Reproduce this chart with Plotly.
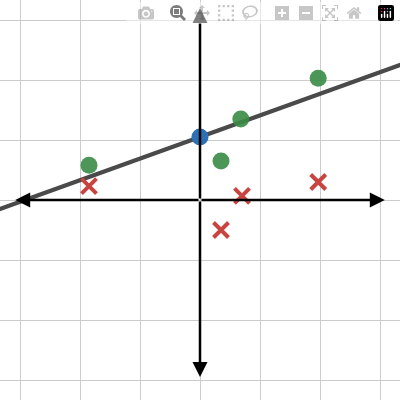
import plotly.graph_objects as go

green_x = [-1.85, 0.68, 1.97, 0.35]
green_y = [0.58, 1.35, 2.03, 0.65]
blue_x = [0.0]
blue_y = [1.05]
red_x = [-1.85, 0.7, 1.97, 0.35]
red_y = [0.23, 0.07, 0.3, -0.5]
slope = 0.36
intercept = 1.05
line_x = [-3.4, 3.4]
line_y = [intercept + slope * v for v in line_x]

fig = go.Figure()
fig.add_trace(go.Scatter(x=line_x, y=line_y, mode="lines",
                         line=dict(color="#4a4a4a", width=4)))
fig.add_trace(go.Scatter(x=green_x, y=green_y, mode="markers",
                         marker=dict(color="#388c46", size=17, opacity=0.9)))
fig.add_trace(go.Scatter(x=red_x, y=red_y, mode="markers",
                         marker=dict(color="#c74440", size=15, symbol="x-thin",
                                     line=dict(color="#c74440", width=4))))
fig.add_trace(go.Scatter(x=blue_x, y=blue_y, mode="markers",
                         marker=dict(color="#2d70b3", size=17)))

# axes with arrows at both ends
for ax, ay in [(3.08, 0), (-3.08, 0), (0, 3.2), (0, -2.95)]:
    fig.add_annotation(x=ax, y=ay, ax=0, ay=0, xref="x", yref="y",
                       axref="x", ayref="y", text="", showarrow=True,
                       arrowhead=2, arrowsize=1.2, arrowwidth=2.5,
                       arrowcolor="#000000")

fig.update_xaxes(range=[-10/3, 10/3], dtick=1, tick0=0, showticklabels=False,
                 gridcolor="#cccccc", gridwidth=1, zeroline=False)
fig.update_yaxes(range=[-10/3, 10/3], dtick=1, tick0=0, showticklabels=False,
                 gridcolor="#cccccc", gridwidth=1, zeroline=False)
fig.update_layout(width=400, height=400, margin=dict(l=0, r=0, t=0, b=0),
                  plot_bgcolor="white", paper_bgcolor="white", showlegend=False)
fig.write_html("out.html",
               post_script="document.body.style.margin='0';document.body.style.overflow='hidden';")
